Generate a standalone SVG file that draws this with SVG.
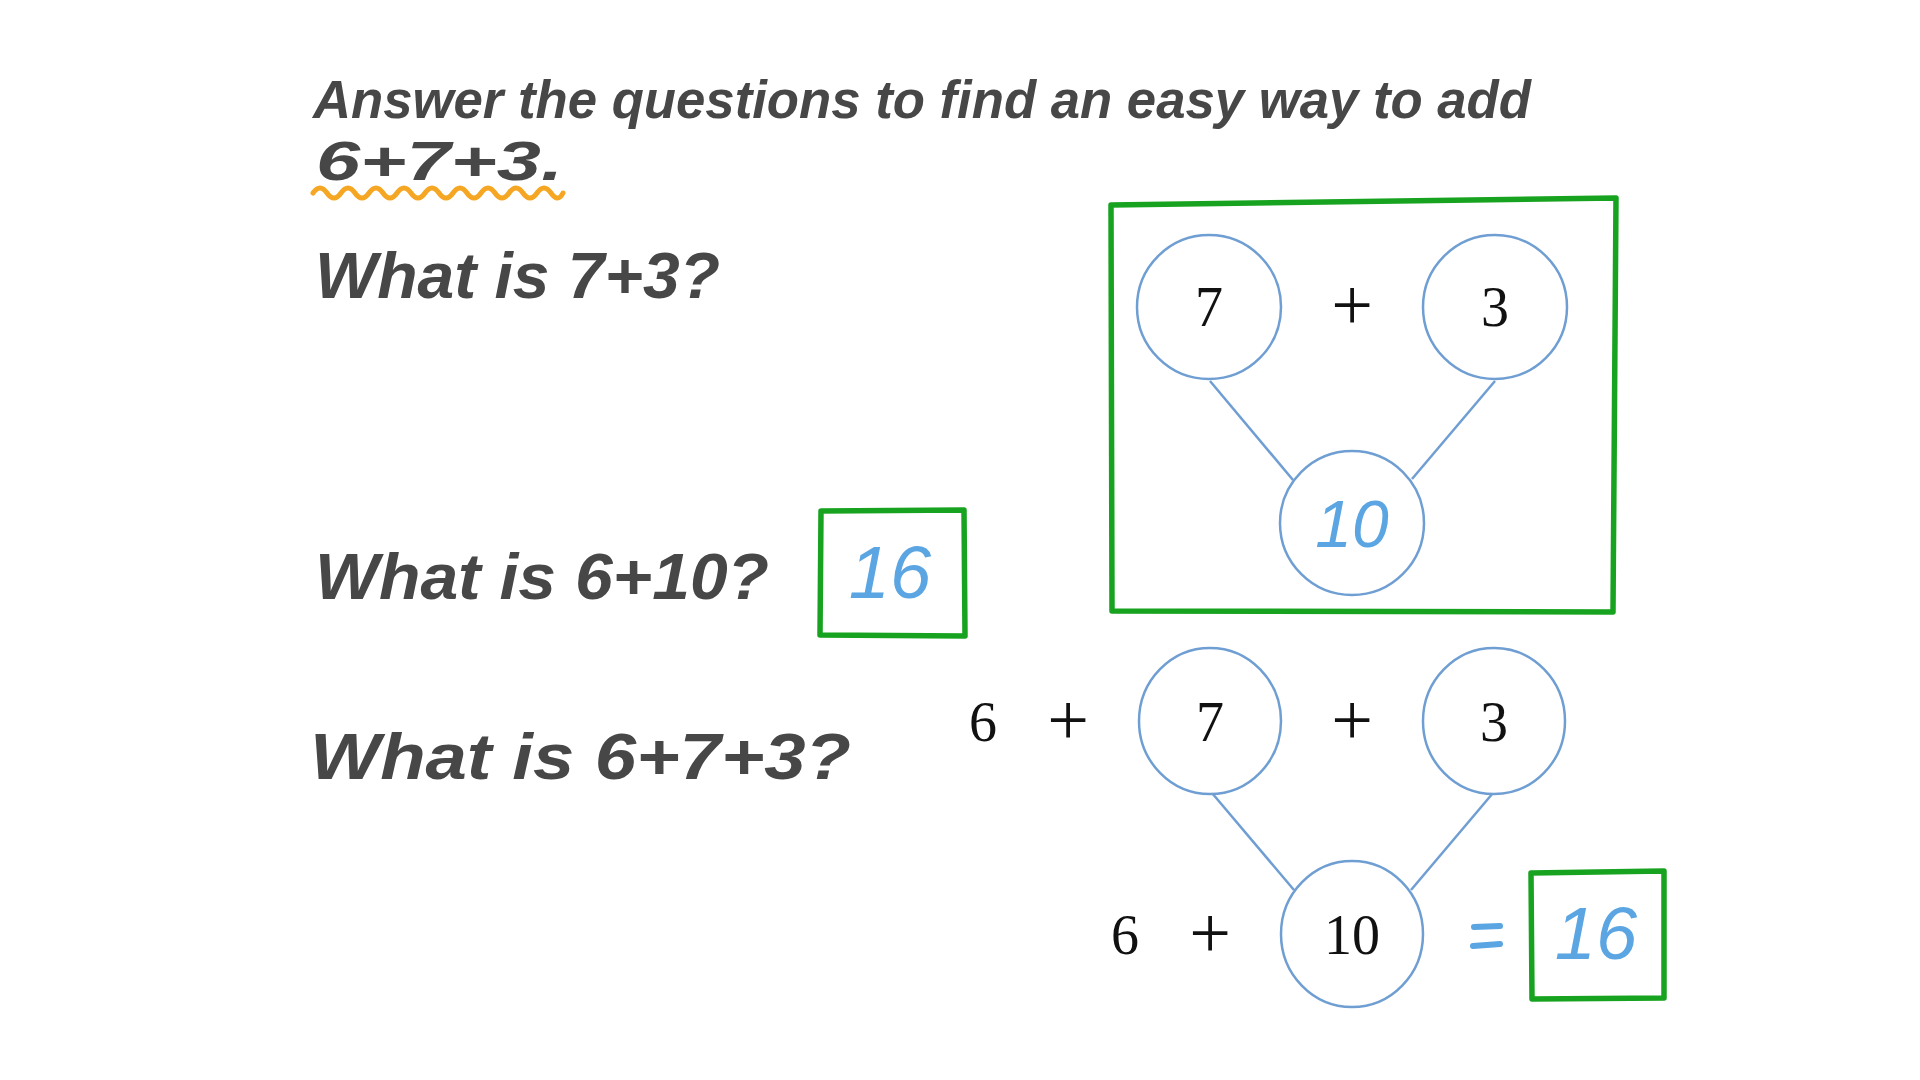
<svg xmlns="http://www.w3.org/2000/svg" width="1920" height="1080" viewBox="0 0 1920 1080">
<style>
.hand{font-family:"Liberation Sans","DejaVu Sans",sans-serif;font-style:italic;font-weight:bold;fill:#474747}
.num{font-family:"Liberation Serif","DejaVu Serif",serif;fill:#111;text-anchor:middle}
.plus{font-family:"Liberation Serif","DejaVu Serif",serif;fill:#111;text-anchor:middle;font-size:74px}
.blue{font-family:"Liberation Sans","DejaVu Sans",sans-serif;font-style:italic;fill:#5aa5e2;text-anchor:middle}
.circ{fill:#fff;stroke:#6f9ed3;stroke-width:2.5}
.link{stroke:#6f9ed3;stroke-width:2.5;fill:none}
.gbox{fill:none;stroke:#17a31f;stroke-width:5.5;stroke-linejoin:round;stroke-linecap:round}
</style>
<rect width="1920" height="1080" fill="#fff"/>
<g id="title">
<text class="hand" x="313" y="118" font-size="54" textLength="1218" lengthAdjust="spacingAndGlyphs">Answer the questions to find an easy way to add</text>
<text class="hand" x="316" y="180" font-size="56" textLength="247" lengthAdjust="spacingAndGlyphs">6+7+3.</text>
<path d="M313,193 q7,-10 14,0 t14,0 t14,0 t14,0 t14,0 t14,0 t14,0 t14,0 t14,0 t14,0 t14,0 t14,0 t14,0 t14,0 t14,0 t14,0 t14,0 t12,0" fill="none" stroke="#f5a623" stroke-width="5" stroke-linecap="round" stroke-linejoin="round"/>
</g>
<g id="q1">
<text class="hand" x="315" y="298" font-size="64" textLength="405" lengthAdjust="spacingAndGlyphs">What is 7+3?</text>
</g>
<g id="q2">
<text class="hand" x="315" y="599" font-size="64" textLength="454" lengthAdjust="spacingAndGlyphs">What is 6+10?</text>
<path class="gbox" d="M821,511 L964,510 L965,636 L820,635 Z"/>
<text class="blue" x="890" y="598" font-size="74">16</text>
</g>
<g id="connectors">
<line class="link" x1="1210" y1="381" x2="1293" y2="480"/>
<line class="link" x1="1495" y1="381" x2="1412" y2="479"/>
<line class="link" x1="1212" y1="793" x2="1294" y2="890"/>
<line class="link" x1="1493" y1="793" x2="1411" y2="890"/>
</g>
<g id="frame1">
<path class="gbox" d="M1111,205 L1616,198 L1613,612 L1112,611 Z"/>
</g>
<g id="c1-7"><circle class="circ" cx="1209" cy="307" r="72"/><text class="num" x="1209" y="326" font-size="56">7</text></g>
<g id="c1-plus"><text class="plus" x="1352" y="330">+</text></g>
<g id="c1-3"><circle class="circ" cx="1495" cy="307" r="72"/><text class="num" x="1495" y="326" font-size="56">3</text></g>
<g id="c1-10"><circle class="circ" cx="1352" cy="523" r="72"/><text class="blue" x="1352" y="547" font-size="66">10</text></g>
<g id="q3">
<text class="hand" x="310" y="779" font-size="64" textLength="541" lengthAdjust="spacingAndGlyphs">What is 6+7+3?</text>
</g>
<g id="row1-6"><text class="num" x="983" y="741" font-size="56">6</text></g>
<g id="row1-plus1"><text class="plus" x="1068" y="745">+</text></g>
<g id="c2-7"><ellipse class="circ" cx="1210" cy="721" rx="71" ry="73"/><text class="num" x="1210" y="741" font-size="56">7</text></g>
<g id="row1-plus2"><text class="plus" x="1352" y="745">+</text></g>
<g id="c2-3"><ellipse class="circ" cx="1494" cy="721" rx="71" ry="73"/><text class="num" x="1494" y="741" font-size="56">3</text></g>
<g id="row2-6"><text class="num" x="1125" y="954" font-size="56">6</text></g>
<g id="row2-plus"><text class="plus" x="1210" y="958">+</text></g>
<g id="c2-10"><ellipse class="circ" cx="1352" cy="934" rx="71" ry="73"/><text class="num" x="1352" y="954" font-size="56">10</text></g>
<g id="result">
<path d="M1474,927 L1500,926 M1473,946 L1500,944" stroke="#5aa5e2" stroke-width="6" stroke-linecap="round" fill="none"/>
<path class="gbox" d="M1531,873 L1664,871 L1664,998 L1532,999 Z"/>
<text class="blue" x="1596" y="959" font-size="74">16</text>
</g>
</svg>
